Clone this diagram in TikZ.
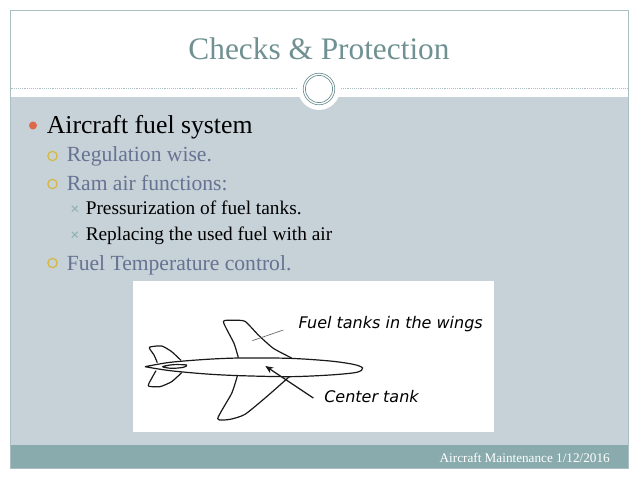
\documentclass[tikz,border=0pt]{standalone}
\usepackage{fontspec}
\setmainfont{Liberation Serif}
\newfontfamily\handfont{DejaVu Sans}[ItalicFont={DejaVu Sans Oblique}]
\usetikzlibrary{arrows.meta,calc}
\definecolor{bandgrey}{RGB}{198,209,216}
\definecolor{footteal}{RGB}{137,171,173}
\definecolor{frameline}{RGB}{170,190,195}
\definecolor{titleteal}{RGB}{112,144,146}
\definecolor{subblue}{RGB}{104,114,146}
\definecolor{dotred}{RGB}{221,104,76}
\definecolor{ringgold}{RGB}{214,184,60}
\definecolor{crossteal}{RGB}{140,178,170}
\tikzset{
	lvlone/.style={anchor=base west,inner sep=0pt,font=\fontsize{19.3}{22}\selectfont,text=black},
	lvltwo/.style={anchor=base west,inner sep=0pt,font=\fontsize{16.2}{18}\selectfont,text=subblue},
	lvlthree/.style={anchor=base west,inner sep=0pt,font=\fontsize{14.5}{16}\selectfont,text=black},
	ringbullet/.style={circle,draw=ringgold,line width=0.9pt,minimum size=7pt,inner sep=0pt},
	crossbullet/.style={inner sep=0pt,text=crossteal,font=\fontsize{12}{12}\selectfont\bfseries},
	hand/.style={anchor=west,inner sep=0pt,font=\handfont\itshape\fontsize{12}{14}\selectfont},
	sketch/.style={line width=0.9pt,black!90,line join=round}
}
\begin{document}
\begin{tikzpicture}[x=0.75pt,y=-0.75pt]
	\useasboundingbox (0,0) rectangle (638,478);
	\fill[white] (0,0) rectangle (638,478);
	
	% slide background
	\fill[bandgrey] (10.5,97) rectangle (628,445);
	\fill[footteal] (10.5,445) rectangle (628,468);
	\draw[frameline,line width=0.6pt] (10.5,10.5) rectangle (628,468);
	\draw[frameline,densely dotted,line width=0.4pt] (10.5,88.5) -- (628,88.5);
	
	% title and ring
	\fill[white] (319,89) circle (21);
	\draw[titleteal,line width=0.5pt] (319,89) circle (15.8);
	\draw[titleteal,line width=0.5pt] (319,89) circle (13.6);
	\node[inner sep=0pt,text=titleteal,font=\fontsize{23.5}{26}\selectfont] (title) at (319,49) {Checks \& Protection};
	
	% bullets
	\fill[dotred] (33,125.5) circle (4);
	\node[lvlone] (fuelsys) at (46.5,133) {Aircraft fuel system};
	
	\node[ringbullet] (ringa) at (52.5,156) {};
	\node[lvltwo] (regwise) at (66.5,161) {Regulation wise.};
	\node[ringbullet] (ringb) at (52.5,184) {};
	\node[lvltwo] (ramair) at (66.5,190.5) {Ram air functions:};
	\node[crossbullet] (crossa) at (75,210.5) {×};
	\node[lvlthree] (press) at (85.5,214.5) {Pressurization of fuel tanks.};
	\node[crossbullet] (crossb) at (75,236.5) {×};
	\node[lvlthree] (replace) at (85.5,240.5) {Replacing the used fuel with air};
	\node[ringbullet] (ringc) at (52.5,263) {};
	\node[lvltwo] (fueltemp) at (66.5,270) {Fuel Temperature control.};
	
	% sketch of the aircraft
	\fill[white] (133,281) rectangle (494,432);
	\begin{scope}[shift={(130,280)},x=0.25pt,y=-0.25pt]
		% fuselage
		\draw[sketch] plot[smooth,tension=0.5] coordinates{
			(45,260) (120,247) (230,238) (330,234) (480,235) (600,243) (670,253) (698,264) (680,277) (600,285) (480,290) (330,287) (230,282) (120,272) (45,260)
		};
		\draw[sketch] plot[smooth cycle] coordinates{
			(98,260) (130,254) (170,255) (160,262) (125,265)
		};
		% wings
		\draw[sketch] plot[smooth,tension=0.35] coordinates{
			(325,233) (312,190) (280,125) (310,121) (345,124) (385,165) (430,205) (485,234)
		};
		\draw[sketch] plot[smooth,tension=0.35] coordinates{
			(322,288) (305,340) (263,416) (300,418) (345,403) (410,350) (478,290)
		};
		% tail
		\draw[sketch] plot[smooth,tension=0.35] coordinates{
			(82,248) (72,225) (58,202) (95,198) (125,215) (153,241)
		};
		\draw[sketch] plot[smooth,tension=0.35] coordinates{
			(78,272) (65,295) (55,318) (90,320) (125,305) (155,278)
		};
		% labels
		\node[hand] (winglabel) at (505,133) {Fuel tanks in the wings};
		\node[hand] (centerlabel) at (582,350) {Center tank};
		\coordinate (leadtop) at (460,150);
		\coordinate (leadend) at (367,182);
		\coordinate (arrowstart) at (550,354);
		\coordinate (arrowend) at (406,258);
		\draw[black!60,line width=0.5pt] (leadtop) -- (leadend);
		\draw[-{Stealth[length=6pt,width=5pt]},line width=0.9pt,black!90] (arrowstart) -- (arrowend);
	\end{scope}
	
	% footer
	\node[anchor=east,inner sep=0pt,text=white,font=\fontsize{9.9}{12}\selectfont] (footer) at (610,458) {Aircraft Maintenance 1/12/2016};
\end{tikzpicture}
\end{document}
